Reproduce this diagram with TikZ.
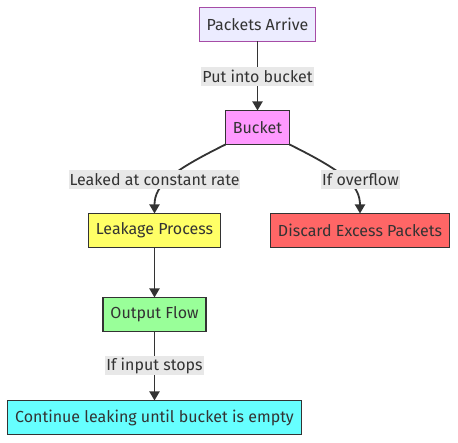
\documentclass[tikz,border=0pt]{standalone}
\usepackage{fontspec}
\setmainfont{Fira Sans}
\usetikzlibrary{arrows.meta}
\definecolor{ink}{HTML}{333333}
\definecolor{lblbg}{HTML}{E8E8E8}
\tikzset{
  box/.style = {rectangle, draw=ink, line width=1.6pt, text=ink, minimum height=34pt, outer sep=0pt},
  lbl/.style = {rectangle, fill=lblbg, text=ink, inner xsep=1pt, inner ysep=0pt, minimum height=19pt},
  flow/.style = {draw=ink, line width=1.8pt, -{Triangle[width=10pt,length=9pt]}}
}

\begin{document}
\begin{tikzpicture}[
    x=1pt, y=-1pt,
    every node/.style={align=center, font=\fontsize{16}{19}\selectfont},
    ]
\useasboundingbox (0,0) rectangle (458,443);

\node [box, draw=violet!70!white, fill={rgb,255:red,236;green,236;blue,255}, line width=1pt, minimum width=116pt] (arrive) at (257.5,24.5) {Packets Arrive};
\node [box, fill={rgb,255:red,255;green,153;blue,255}, minimum width=64pt] (bucket) at (257.5,127.5) {Bucket};
\node [box, fill={rgb,255:red,255;green,255;blue,102}, minimum width=132pt] (leak) at (154.5,230.5) {Leakage Process};
\node [box, fill={rgb,255:red,255;green,102;blue,102}, minimum width=179pt] (discard) at (360,230.5) {Discard Excess Packets};
\node [box, fill={rgb,255:red,153;green,255;blue,153}, minimum width=103pt] (output) at (154.5,314.5) {Output Flow};
\node [box, fill={rgb,255:red,102;green,255;blue,255}, minimum width=294pt] (empty) at (154.5,417.5) {Continue leaking until bucket is empty};

% connectors
\draw [flow] (arrive) -- (bucket);
\draw [flow] (bucket.south west) .. controls (172,171) and (154.5,185) .. (leak.north);
\draw [flow] (bucket.south east) .. controls (343,171) and (360,185) .. (discard.north);
\draw [flow] (leak) -- (output);
\draw [flow] (output) -- (empty);

% edge labels
\node [lbl] (putlbl) at (257.5,76.5) {Put into bucket};
\node [lbl] (ratelbl) at (154.5,179.5) {Leaked at constant rate};
\node [lbl] (overlbl) at (360.5,179.5) {If overflow};
\node [lbl] (stoplbl) at (154.5,366) {If input stops};

\end{tikzpicture}
\end{document}
